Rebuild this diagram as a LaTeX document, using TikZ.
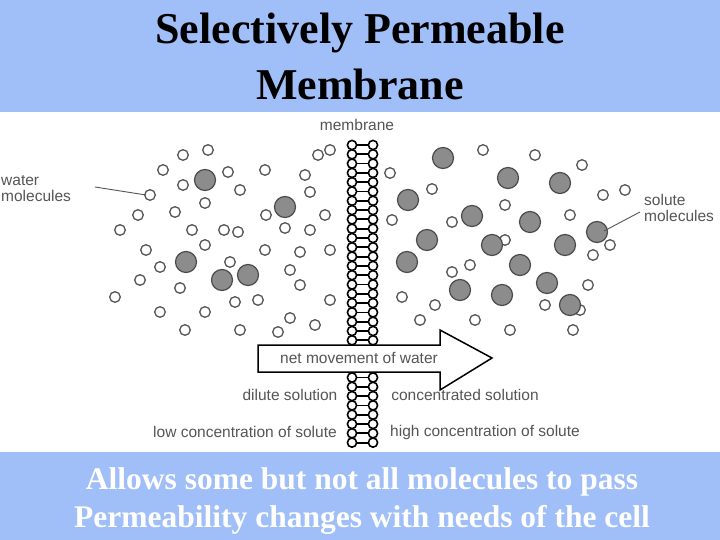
\documentclass[tikz,border=0pt]{standalone}
\usepackage{fontspec}
\setmainfont{Liberation Serif}
\newfontfamily\lab{Liberation Sans}
\definecolor{bg}{HTML}{A0BEF8}
\definecolor{lg}{HTML}{555555}
\begin{document}
\begin{tikzpicture}[x=1pt,y=-1pt,
  wat/.style={draw=lg,line width=1.3pt,fill=white},
  sol/.style={draw=black!70,line width=1.2pt,fill=black!45},
  lbl/.style={font=\lab\fontsize{15.5}{16}\selectfont,text=lg,inner sep=1pt},
  ttl/.style={font=\bfseries\fontsize{44}{48}\selectfont,text=black},
  sub/.style={font=\bfseries\fontsize{31.5}{34}\selectfont,text=white}]
\fill[bg] (0,0) rectangle (720,540);
\fill[white] (0,112) rectangle (720,452);
\node[ttl] (t1) at (360,33) {Selectively Permeable};
\node[ttl] (t2) at (360,84) {Membrane};
% membrane
\foreach \i in {0,...,32}{
  \pgfmathsetmacro\yy{145+9.3*\i}
  \draw[line width=1.8pt] (356,\yy)--(369,\yy);
  \draw[line width=1.6pt,fill=white] (352,\yy) circle (4.6);
  \draw[line width=1.6pt,fill=white] (373,\yy) circle (4.6);
}
% water
\foreach \x/\y in {183/155,208/150,163/170,228/172,183/185,150/195,265/170,240/190,205/203,138/215,175/212,224/230,120/230,192/230,238/232,146/250,265/250,205/245,318/155,330/150,305/175,310/192,266/215,325/215,330/250,300/252,230/262,160/267,290/270,140/280,180/288,300/285,115/297,258/300,330/300,160/312,205/312,235/302,185/330,290/318,240/330,278/332,315/325,310/230,285/228,390/173,432/189,483/150,535/155,582/165,625/190,603/195,392/220,452/222,505/205,570/215,505/240,452/272,593/255,402/297,435/305,475/320,510/330,545/305,580/310,588/285,470/265,610/245,573/330,420/320}
  \draw[wat] (\x,\y) circle (5.3);
% solute
\foreach \x/\y in {205/180,285/207,186/262,248/275,222/280,443/158,508/178,560/183,408/200,472/216,530/222,597/232,427/240,492/245,565/245,407/262,520/265,460/290,547/283,502/295,570/305}
  \draw[sol] (\x,\y) circle (10.5);
% labels
\node[lbl] (mem) at (357,125) {membrane};
\node[lbl,align=left,anchor=west] (wl) at (0,189) {water\\molecules};
\node[lbl,align=left,anchor=west] (sl) at (643,208) {solute\\molecules};
\coordinate (wt) at (146,195);
\coordinate (st) at (604,231);
\draw[lg,line width=0.9pt] (95,187) -- (wt);
\draw[lg,line width=0.9pt] (640,212) -- (st);
% arrow
\draw[line width=1.5pt,fill=white] (258,345)--(440,345)--(440,330)--(492,358)--(440,390)--(440,372)--(258,372)--cycle;
\node[lbl] (nm) at (359,358) {net movement of water};
\node[lbl] (dl) at (290,395) {dilute solution};
\node[lbl] (cs) at (465,395) {concentrated solution};
\node[lbl] (lc) at (245,432) {low concentration of solute};
\node[lbl] (hc) at (485,432) {high concentration of solute};
% bottom text
\node[sub] (b1) at (362,482) {Allows some but not all molecules to pass};
\node[sub] (b2) at (362,520) {Permeability changes with needs of the cell};
\end{tikzpicture}
\end{document}
